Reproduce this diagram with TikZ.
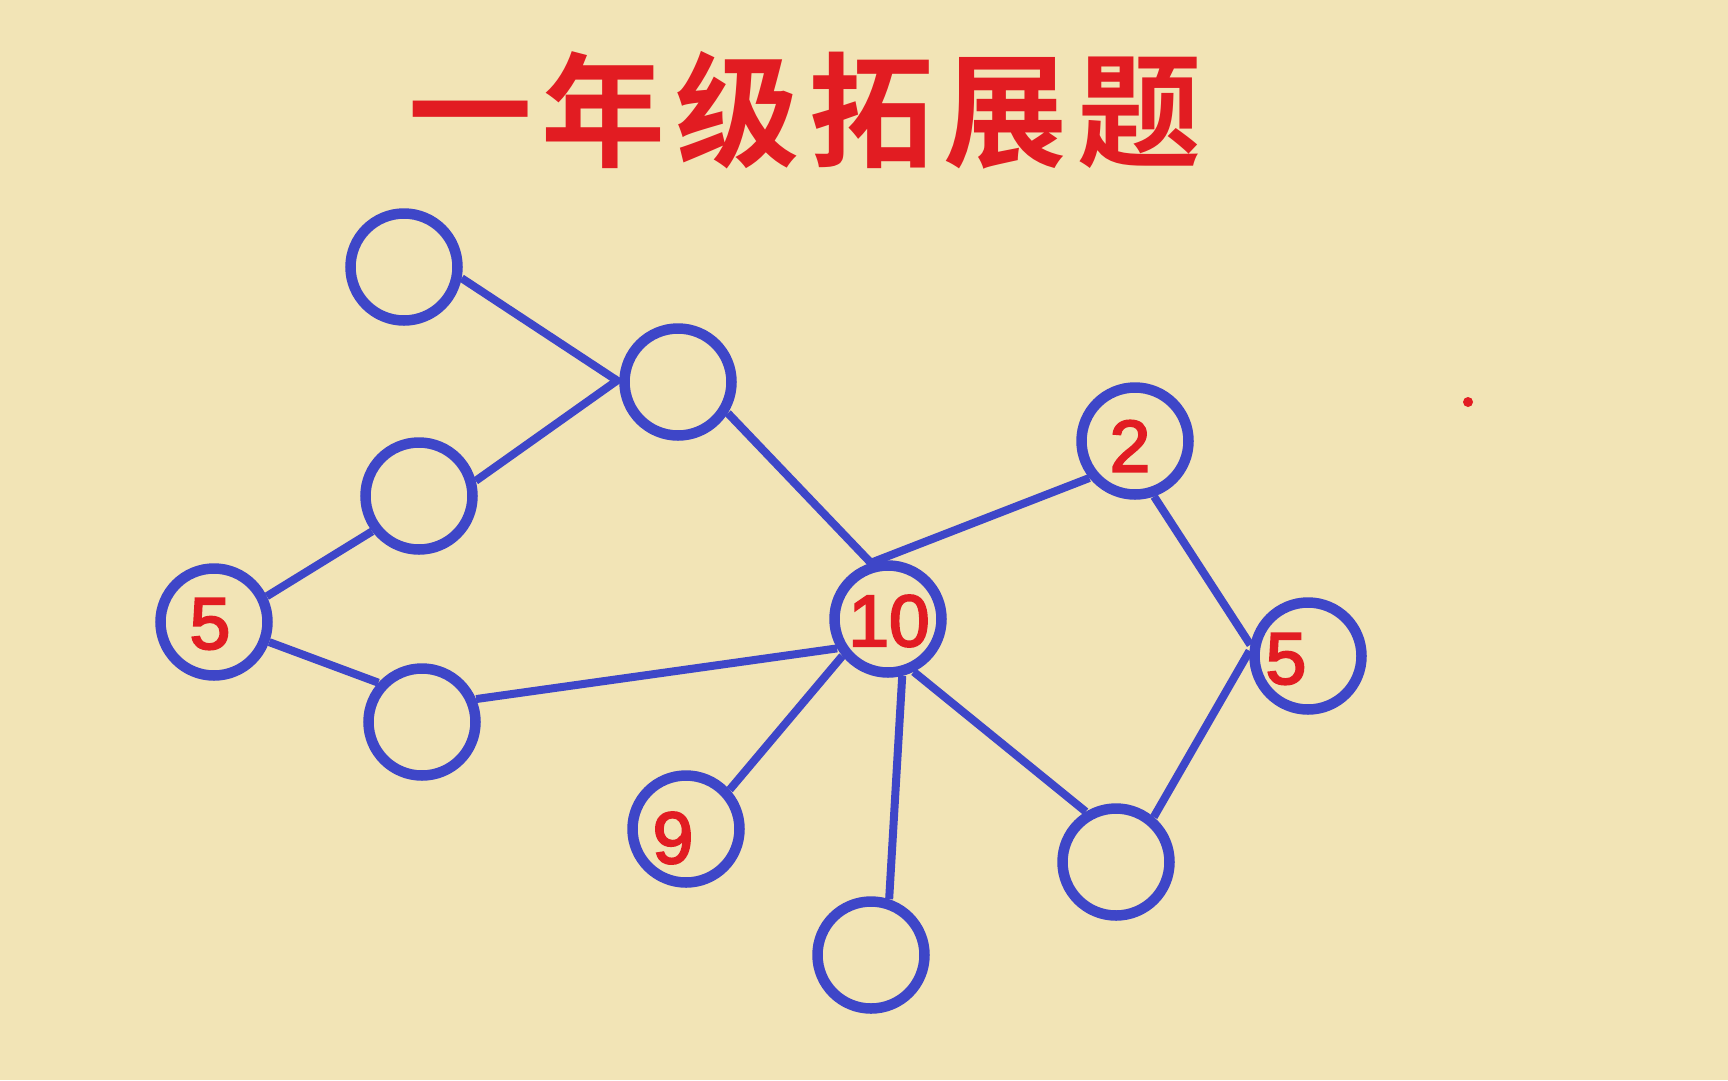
\documentclass[tikz,border=0pt]{standalone}
\usepackage{fontspec}
\setmainfont{Liberation Sans}
\newfontfamily\numfont{Liberation Sans}[FakeBold=3]
\newfontfamily\cjk{Noto Sans CJK SC}[BoldFont={* Bold}]
\definecolor{bgc}{RGB}{242,228,182}
\definecolor{cblue}{RGB}{62,70,200}
\definecolor{cred}{RGB}{226,28,34}
\tikzset{
  ring/.style={circle,draw=cblue,line width=10.5pt,minimum size=107pt,inner sep=0pt},
  num/.style={text=cred,font=\numfont\fontsize{73}{73}\selectfont},
  edge/.style={draw=cblue,line width=8pt}
}
\begin{document}
\begin{tikzpicture}[x=1pt,y=-1pt]
\fill[bgc] (0,0) rectangle (1728,1080);
\useasboundingbox (0,0) rectangle (1728,1080);
\node[text=cred,font=\cjk\bfseries\fontsize{124}{124}\selectfont,inner sep=0pt] (title) at (805,110)
  {一\hskip10pt年\hskip10pt级\hskip10pt拓\hskip10pt展\hskip10pt题};
\node[ring] (A) at (404,267) {};
\node[ring] (B) at (678,382) {};
\node[ring] (C) at (419,496) {};
\node[ring,label={[num,xshift=-4pt,yshift=-2pt]center:5}] (D) at (214,622) {};
\node[ring] (E) at (422,722) {};
\node[ring,label={[num,xshift=1pt,yshift=-2pt]center:10}] (F) at (888,619) {};
\node[ring,label={[num,xshift=-5pt,yshift=-5pt]center:2}] (G) at (1135,441) {};
\node[ring,label={[num,xshift=-22pt,yshift=-3pt]center:5}] (H) at (1308,656) {};
\node[ring,label={[num,xshift=-13pt,yshift=-9pt]center:9}] (I) at (686,829) {};
\node[ring] (J) at (1116,862) {};
\node[ring] (K) at (871,955) {};
\fill[cred] (1468,402) circle (5pt);
\draw[edge] (A.-11) -- (B.180);
\draw[edge] (C.15) -- (B.177);
\draw[edge] (B.-32) -- (F.107);
\draw[edge] (D.26) -- (C.217);
\draw[edge] (D.-20) -- (E.138);
\draw[edge] (E.23) -- (F.210);
\draw[edge] (F.107) -- (G.219);
\draw[edge] (G.-71) -- (H.169);
\draw[edge] (H.175) -- (J.50);
\draw[edge] (F.219) -- (I.42);
\draw[edge] (F.-76) -- (K.72);
\draw[edge] (F.-64) -- (J.121);
\end{tikzpicture}
\end{document}
